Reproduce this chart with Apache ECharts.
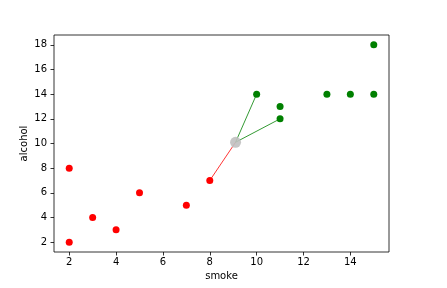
<!DOCTYPE html>
<html><head><meta charset="utf-8">
<script src="https://cdn.jsdelivr.net/npm/echarts@6/dist/echarts.min.js"></script>
<style>html,body{margin:0;padding:0;background:#fff}#c{width:447px;height:288px}</style>
</head><body><div id="c"></div>
<script>
const redX = [2, 2, 3, 4, 5, 7, 8];
const redY = [2, 8, 4, 3, 6, 5, 7];
const greenX = [10, 11, 11, 13, 14, 15, 15];
const greenY = [14, 13, 12, 14, 14, 14, 18];
const queryPoint = [9.1, 10.1];
const neighborX = [8, 10, 11];
const neighborY = [7, 14, 12];
const neighborColor = ['#ff0000', '#008000', '#008000'];
const xTicks = [2, 4, 6, 8, 10, 12, 14];
const yTicks = [2, 4, 6, 8, 10, 12, 14, 16, 18];
const xName = 'smoke', yName = 'alcohol';

const font = 'DejaVu Sans';
const chart = echarts.init(document.getElementById('c'), null, {renderer: 'canvas'});
const zip = (a, b) => a.map((v, i) => [v, b[i]]);
const lineSeries = neighborX.map((x, i) => ({
  type: 'line', data: [queryPoint, [x, neighborY[i]]], symbol: 'none',
  lineStyle: {color: neighborColor[i], width: 0.8}, z: 2, silent: true
}));
const axisCommon = {
  axisLine: {show: false},
  splitLine: {show: false},
  axisTick: {show: true, inside: false, length: 3.5, lineStyle: {color: '#000', width: 0.8}},
  axisLabel: {color: '#000', fontFamily: font, fontSize: 10},
  nameTextStyle: {color: '#000', fontFamily: font, fontSize: 10},
  nameLocation: 'middle',
  nameMoveOverlap: false
};
chart.setOption({
  animation: false,
  backgroundColor: '#fff',
  grid: {left: 54, right: 58, top: 35, bottom: 36, show: true, borderColor: '#000', borderWidth: 0.8, backgroundColor: '#fff'},
  xAxis: Object.assign({}, axisCommon, {
    type: 'value', min: 1.35, max: 15.65, name: xName, nameGap: 19,
    axisTick: Object.assign({}, axisCommon.axisTick, {customValues: xTicks}),
    axisLabel: Object.assign({}, axisCommon.axisLabel, {customValues: xTicks, margin: 5})
  }),
  yAxis: Object.assign({}, axisCommon, {
    type: 'value', min: 1.2, max: 18.8, name: yName, nameGap: 25, nameRotate: 90,
    axisTick: Object.assign({}, axisCommon.axisTick, {customValues: yTicks}),
    axisLabel: Object.assign({}, axisCommon.axisLabel, {customValues: yTicks, margin: 7})
  }),
  series: [
    ...lineSeries,
    {type: 'scatter', data: zip(redX, redY), symbolSize: 7, itemStyle: {color: '#ff0000', opacity: 1}, z: 3},
    {type: 'scatter', data: zip(greenX, greenY), symbolSize: 7, itemStyle: {color: '#008000', opacity: 1}, z: 3},
    {type: 'scatter', data: [queryPoint], symbolSize: 11, itemStyle: {color: '#c0c0c0', opacity: 0.9}, z: 4}
  ]
});
</script></body></html>
